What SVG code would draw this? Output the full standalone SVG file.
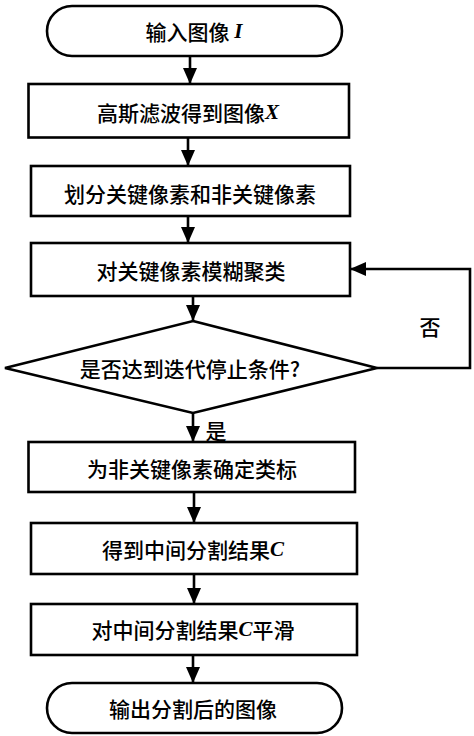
<svg xmlns="http://www.w3.org/2000/svg" width="474" height="736" viewBox="0 0 474 736">
<defs>
<marker id="ah" markerWidth="16" markerHeight="14" refX="16" refY="7" orient="auto" markerUnits="userSpaceOnUse">
<path d="M0,0 L16,7 L0,14 Z" fill="#000"/>
</marker>
<style>
.n{fill:#fff;stroke:#000;stroke-width:2.6}
.t{font-family:"Noto Sans CJK SC","Liberation Sans",sans-serif;font-size:21px;font-weight:500;fill:#000;text-anchor:middle;dominant-baseline:central}
.v{font-family:"Liberation Serif",serif;font-style:italic;font-weight:bold}
.c{fill:none;stroke:#000;stroke-width:2.6;marker-end:url(#ah)}
</style>
</defs>
<rect width="474" height="736" fill="#fff"/>
<g id="start"><rect class="n" x="47" y="6" width="295" height="50" rx="25" ry="25"/><text class="t" x="194" y="31">输入图像 <tspan class="v">I</tspan></text></g>
<g id="gauss"><rect class="n" x="28.5" y="84" width="320.5" height="53.5"/><text class="t" x="188" y="112">高斯滤波得到图像<tspan class="v">X</tspan></text></g>
<g id="split"><rect class="n" x="31" y="166" width="319" height="50"/><text class="t" x="190" y="193">划分关键像素和非关键像素</text></g>
<g id="cluster"><rect class="n" x="31" y="243" width="319" height="53"/><text class="t" x="191" y="270">对关键像素模糊聚类</text></g>
<g id="cond"><polygon class="n" points="193,321 377,368 193,413 5,368"/><text class="t" x="190" y="368">是否达到迭代停止条件?</text></g>
<g id="label"><rect class="n" x="28.5" y="442" width="326.5" height="50"/><text class="t" x="192" y="468">为非关键像素确定类标</text></g>
<g id="mid"><rect class="n" x="31" y="523" width="326" height="51"/><text class="t" x="193" y="549">得到中间分割结果<tspan class="v">C</tspan></text></g>
<g id="smooth"><rect class="n" x="31" y="604" width="326" height="51"/><text class="t" x="193" y="629">对中间分割结果<tspan class="v">C</tspan>平滑</text></g>
<g id="end"><rect class="n" x="47" y="683" width="295" height="50" rx="25" ry="25"/><text class="t" x="193" y="708">输出分割后的图像</text></g>
<g id="connectors">
<path class="c" d="M190,56 V84"/>
<path class="c" d="M188,137.5 V166"/>
<path class="c" d="M188,216 V243"/>
<path class="c" d="M193,296 V321"/>
<path class="c" d="M377,368 H470 V269 H350"/>
<path class="c" d="M193,413 V442"/>
<path class="c" d="M194,492 V523"/>
<path class="c" d="M194,574 V604"/>
<path class="c" d="M193,655 V683"/>
<text class="t" x="430" y="326">否</text>
<text class="t" x="216" y="430">是</text>
</g>
</svg>
